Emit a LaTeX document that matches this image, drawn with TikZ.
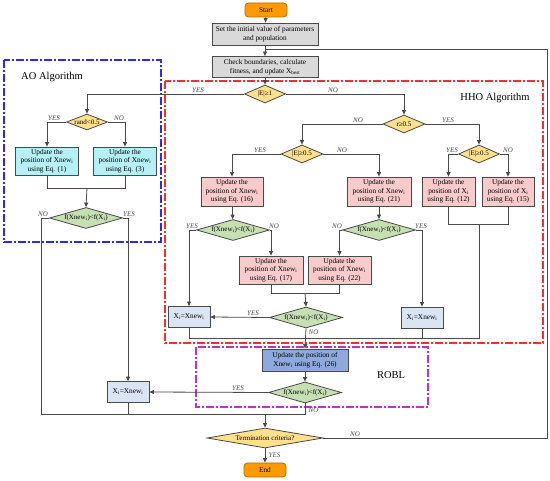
\documentclass[tikz,border=0pt]{standalone}
\usepackage{fontspec}
\setmainfont{Liberation Serif}
\usetikzlibrary{shapes.geometric,arrows.meta}
\definecolor{lineC}{HTML}{4A4A4A}
\definecolor{orangeF}{HTML}{FF9A00}
\definecolor{orangeD}{HTML}{B86E00}
\definecolor{grayF}{HTML}{D9D9D9}
\definecolor{yellowF}{HTML}{FFE08C}
\definecolor{cyanF}{HTML}{B4F0F6}
\definecolor{pinkF}{HTML}{F8CACA}
\definecolor{greenF}{HTML}{C6E0B4}
\definecolor{lblueF}{HTML}{DAE5F3}
\definecolor{roblF}{HTML}{8EA9DB}
\definecolor{blueB}{HTML}{2B2BF0}
\definecolor{redB}{HTML}{FF2A2A}
\definecolor{magB}{HTML}{C030C8}
\tikzset{
  conn/.style={draw=lineC, line width=0.8pt},
  arr/.style={conn, -{Triangle[length=4.5pt,width=4pt]}},
  bx/.style={draw=lineC, line width=0.8pt, align=center, inner sep=1pt,
     font=\fontsize{7.3}{8.7}\selectfont},
  term/.style={bx, rounded corners=3.5pt, fill=orangeF, draw=orangeD,
     minimum width=42pt, minimum height=14pt},
  graybox/.style={bx, fill=grayF, minimum width=106pt, minimum height=22pt},
  cyanbox/.style={bx, fill=cyanF, minimum width=63pt, minimum height=28pt},
  pinkbox/.style={bx, fill=pinkF, minimum height=29pt},
  xbox/.style={bx, fill=lblueF, minimum width=42pt, minimum height=21pt},
  dia/.style={diamond, draw=lineC, line width=0.8pt, align=center,
     inner xsep=-3pt, inner ysep=-1pt, font=\fontsize{7}{8}\selectfont},
  ydia/.style={dia, fill=yellowF},
  gdia/.style={dia, fill=greenF, minimum width=73pt, minimum height=21pt, shape aspect=3.5},
  lab/.style={font=\fontsize{7}{8}\selectfont\itshape, text=lineC, inner sep=0.5pt},
  region/.style={line width=1.1pt, dash pattern=on 8pt off 2pt on 2pt off 2pt},
  title/.style={font=\fontsize{10.5}{12}\selectfont, inner sep=0pt}
}
\begin{document}
\begin{tikzpicture}[x=1pt,y=-1pt]
\useasboundingbox (0,0) rectangle (550,481);

% region frames
\draw[region, draw=blueB] (4,60) rectangle (161,242);
\draw[region, draw=redB] (165,81) rectangle (543,343);
\draw[region, draw=magB] (196,347) rectangle (428,407);
\node[title] (aot) at (52,77) {AO Algorithm};
\node[title] (hhot) at (495,98) {HHO Algorithm};
\node[title] (roblt) at (391,375) {ROBL};

% nodes
\node[term] (start) at (266,10) {Start};
\node[graybox] (init) at (265,34) {Set the initial value of parameters\\and population};
\node[graybox, minimum height=21pt] (check) at (265,67) {Check boundaries, calculate\\fitness, and update X\textsubscript{best}};
\node[ydia, minimum width=41pt, minimum height=18pt, shape aspect=2.3] (e1) at (265,94) {|E|≥1};
\node[ydia, minimum width=41pt, minimum height=16pt, shape aspect=2.5] (rand) at (87,122) {rand<0.5};
\node[cyanbox] (ao1) at (47,161) {Update the\\position of Xnew\textsubscript{i}\\using Eq. (1)};
\node[cyanbox] (ao2) at (125,161) {Update the\\position of Xnew\textsubscript{i}\\using Eq. (3)};
\node[gdia] (aod) at (86,218) {f(Xnew\textsubscript{i})<f(X\textsubscript{i})};
\node[xbox] (aox) at (128,392) {X\textsubscript{i}=Xnew\textsubscript{i}};

\node[ydia, minimum width=42pt, minimum height=18pt, shape aspect=2.3] (r) at (404,124) {r≥0.5};
\node[ydia, minimum width=42pt, minimum height=18pt, shape aspect=2.3] (e2) at (302,154) {|E|≥0.5};
\node[ydia, minimum width=41pt, minimum height=18pt, shape aspect=2.3] (e3) at (479,154) {|E|≥0.5};
\node[pinkbox, minimum width=62pt] (b16) at (232,191.5) {Update the\\position of Xnew\textsubscript{i}\\using Eq. (16)};
\node[pinkbox, minimum width=64pt] (b21) at (379,191.5) {Update the\\position of Xnew\textsubscript{i}\\using Eq. (21)};
\node[pinkbox, minimum width=53pt] (b12) at (448.5,191.5) {Update the\\position of X\textsubscript{i}\\using Eq. (12)};
\node[pinkbox, minimum width=52pt] (b15) at (508,191.5) {Update the\\position of X\textsubscript{i}\\using Eq. (15)};
\node[gdia] (g16) at (233,230) {f(Xnew\textsubscript{i})<f(X\textsubscript{i})};
\node[gdia] (g21) at (379,230) {f(Xnew\textsubscript{i})<f(X\textsubscript{i})};
\node[pinkbox, minimum width=64pt, minimum height=28pt] (b17) at (271,270) {Update the\\position of Xnew\textsubscript{i}\\using Eq. (17)};
\node[pinkbox, minimum width=63pt, minimum height=28pt] (b22) at (339.5,270) {Update the\\position of Xnew\textsubscript{i}\\using Eq. (22)};
\node[gdia] (gm) at (306,317.5) {f(Xnew\textsubscript{i})<f(X\textsubscript{i})};
\node[xbox] (xl) at (189,317) {X\textsubscript{i}=Xnew\textsubscript{i}};
\node[xbox] (xr) at (422,317.5) {X\textsubscript{i}=Xnew\textsubscript{i}};

\node[bx, fill=roblF, minimum width=86pt, minimum height=22pt] (robl) at (305,360) {Update the position of\\Xnew\textsubscript{i} using Eq. (26)};
\node[gdia] (gr) at (305,392.5) {f(Xnew\textsubscript{i})<f(X\textsubscript{i})};
\node[ydia, minimum width=116pt, minimum height=20pt, shape aspect=5.8] (crit) at (265,438) {Termination criteria?};
\node[term] (end) at (265,470) {End};

% junction coordinates
\coordinate (jtop) at (265,49);
\coordinate (jao) at (87,188);
\coordinate (jmid) at (305,293);
\coordinate (jright) at (479,224);
\coordinate (jlow) at (265,414);

% main trunk
\draw[arr] (start) -- (init);
\draw[arr] (init) -- (check);
\draw[arr] (check) -- (e1);
\draw[conn] (crit.east) -- (547,438) -- (547,49) -- (jtop);
\node[lab, anchor=south] (lno1) at (355,437) {NO};

% AO branch
\draw[arr] (e1.west) -| (rand.north);
\node[lab, anchor=south] (lyes1) at (198,93) {YES};
\draw[arr] (rand.west) -| (ao1.north);
\node[lab, anchor=south] (lyes2) at (54,121) {YES};
\draw[arr] (rand.east) -| (ao2.north);
\node[lab, anchor=south] (lno2) at (119,121) {NO};
\draw[conn] (ao1.south) |- (jao);
\draw[conn] (ao2.south) |- (jao);
\draw[arr] (jao) -- (aod.north);
\draw[conn] (aod.west) -| (41,414) -- (jlow);
\node[lab, anchor=south] (lno3) at (43,217) {NO};
\draw[arr] (aod.east) -| (aox.north);
\node[lab, anchor=south] (lyes3) at (129,217) {YES};
\draw[conn] (aox.south) -- (128,414);

% HHO branch
\draw[arr] (e1.east) -| (r.north);
\node[lab, anchor=south] (lno4) at (333,93) {NO};
\draw[arr] (r.west) -| (e2.north);
\node[lab, anchor=south] (lno5) at (358,123) {NO};
\draw[arr] (r.east) -| (e3.north);
\node[lab, anchor=south] (lyes5) at (448,123) {YES};
\draw[arr] (e2.west) -| (b16.north);
\node[lab, anchor=south] (lyes6) at (260,153) {YES};
\draw[arr] (e2.east) -| (b21.north);
\node[lab, anchor=south] (lno6) at (342,153) {NO};
\draw[arr] (e3.west) -| (b12.north);
\node[lab, anchor=south] (lyes7) at (452,153) {YES};
\draw[arr] (e3.east) -| (b15.north);
\node[lab, anchor=south] (lno7) at (508,153) {NO};
\draw[arr] (b16) -- (g16);
\draw[arr] (b21) -- (g21);
\draw[arr] (g16.west) -| (xl.north);
\node[lab, anchor=south] (lyes8) at (192,229) {YES};
\draw[arr] (g16.east) -| (b17.north);
\node[lab, anchor=south] (lno8) at (274,229) {NO};
\draw[arr] (g21.west) -| (b22.north);
\node[lab, anchor=south] (lno9) at (337,229) {NO};
\draw[arr] (g21.east) -| (xr.north);
\node[lab, anchor=south] (lyes9) at (421,229) {YES};
\draw[conn] (b17.south) |- (jmid);
\draw[conn] (b22.south) |- (jmid);
\draw[arr] (jmid) -- (gm.north);
\draw[arr] (gm.west) -- (xl.east);
\node[lab, anchor=south] (lyes10) at (253,316) {YES};
\draw[conn] (b12.south) |- (jright);
\draw[conn] (b15.south) |- (jright);
\draw[conn] (jright) -- (479,338) -- (189,338) -- (xl.south);
\draw[conn] (xr.south) -- (422,338);
\draw[arr] (gm.south) -- (robl.north);
\node[lab, anchor=north west] (lno10) at (308,329) {NO};

% ROBL
\draw[arr] (robl) -- (gr);
\draw[arr] (gr.west) -- (aox.east);
\node[lab, anchor=south] (lyes11) at (238,391) {YES};
\draw[conn] (gr.south) |- (jlow);
\node[lab, anchor=north west] (lno11) at (308,407.5) {NO};
\draw[arr] (jlow) -- (crit.north);
\draw[arr] (crit.south) -- (end.north);
\node[lab, anchor=west] (lyes12) at (268,455) {YES};
\end{tikzpicture}
\end{document}
